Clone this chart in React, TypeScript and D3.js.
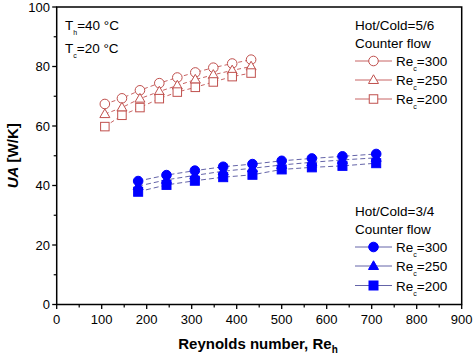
import React from "react";
import * as d3 from "d3";

// Hot/Cold = 5/6, counter flow (hollow markers)
const reRed = [107, 145, 185, 228, 268, 308, 348, 390, 432];
const red300 = [67.4, 69.3, 72.0, 74.4, 76.3, 78.0, 79.6, 81.0, 82.3];
const red250 = [64.0, 66.2, 69.2, 71.6, 73.6, 75.6, 77.2, 78.7, 80.0];
const red200 = [59.8, 63.6, 66.2, 69.2, 71.4, 73.0, 74.8, 76.6, 77.8];

// Hot/Cold = 3/4, counter flow (filled markers)
const reBlue = [181, 244, 307, 370, 435, 500, 567, 635, 710];
const blue300 = [41.5, 43.5, 45.0, 46.3, 47.2, 48.3, 49.1, 49.8, 50.6];
const blue250 = [39.8, 41.9, 43.4, 44.8, 45.8, 46.9, 47.8, 48.6, 49.3];
const blue200 = [37.9, 40.2, 41.6, 42.8, 43.6, 45.4, 46.1, 46.6, 47.5];

const xTicks = [0, 100, 200, 300, 400, 500, 600, 700, 800, 900];
const yTicks = [0, 20, 40, 60, 80, 100];
const legendLabels = ["300", "250", "200"];

const W = 474;
const H = 358;
const margin = { left: 56.7, right: 12.3, top: 7, bottom: 53.5 };
const font = "Arial, 'Liberation Sans', sans-serif";
const red = "#c0504d";
const redLine = "#c86464";
const blue = "#0000ff";
const blueLine = "#6464a8";

type Shape = "circle" | "triangle" | "square";

function Marker({ shape, x, y, filled }: { shape: Shape; x: number; y: number; filled: boolean }) {
  const stroke = filled ? blue : red;
  const fill = filled ? blue : "white";
  if (shape === "circle") {
    return <circle cx={x} cy={y} r={filled ? 4.8 : 4.8} fill={fill} stroke={stroke} strokeWidth={1} />;
  }
  if (shape === "triangle") {
    const s = 10;
    const h = s * 0.87;
    return (
      <path
        d={`M${x},${y - h * 0.6}L${x + s / 2},${y + h * 0.4}L${x - s / 2},${y + h * 0.4}Z`}
        fill={fill}
        stroke={stroke}
        strokeWidth={1}
      />
    );
  }
  const s = filled ? 9 : 8.5;
  return <rect x={x - s / 2} y={y - s / 2} width={s} height={s} fill={fill} stroke={stroke} strokeWidth={1} />;
}

export default function App() {
  const x = d3.scaleLinear().domain([0, 900]).range([margin.left, W - margin.right]);
  const y = d3.scaleLinear().domain([0, 100]).range([H - margin.bottom, margin.top]);

  const line = d3
    .line<[number, number]>()
    .x((d) => x(d[0]))
    .y((d) => y(d[1]));

  const redSeries: { vals: number[]; shape: Shape }[] = [
    { vals: red300, shape: "circle" },
    { vals: red250, shape: "triangle" },
    { vals: red200, shape: "square" },
  ];
  const blueSeries: { vals: number[]; shape: Shape }[] = [
    { vals: blue300, shape: "circle" },
    { vals: blue250, shape: "triangle" },
    { vals: blue200, shape: "square" },
  ];

  const x0 = x(0);
  const x1 = x(900);
  const y0 = y(0);
  const y1 = y(100);

  const xMinor = d3.range(50, 900, 100);
  const yMinor = d3.range(10, 100, 20);

  const legend = (top: number, rows: number[], filled: boolean, title: string, lineColor: string) => (
    <g>
      <text x={355} y={top} fontSize={13.5} fontFamily={font}>{title}</text>
      <text x={355} y={top + 18} fontSize={13.5} fontFamily={font}>Counter flow</text>
      {rows.map((ry, i) => (
        <g key={i}>
          <line x1={355} x2={392} y1={ry} y2={ry} stroke={lineColor} strokeWidth={1} />
          <Marker shape={(["circle", "triangle", "square"] as Shape[])[i]} x={373.5} y={ry} filled={filled} />
          <text x={396} y={ry + 5} fontSize={13.5} fontFamily={font}>
            Re<tspan fontSize={7} dy={5}>c</tspan>
            <tspan dy={-5}>={legendLabels[i]}</tspan>
          </text>
        </g>
      ))}
    </g>
  );

  return (
    <svg width={W} height={H} style={{ position: "absolute", left: 0, top: 0 }}>
      <rect width={W} height={H} fill="white" />

      {/* series lines */}
      {redSeries.map((s, i) => (
        <path
          key={"rl" + i}
          d={line(reRed.map((r, j) => [r, s.vals[j]]))!}
          fill="none"
          stroke={redLine}
          strokeWidth={1}
          strokeDasharray="4,3"
        />
      ))}
      {blueSeries.map((s, i) => (
        <path
          key={"bl" + i}
          d={line(reBlue.map((r, j) => [r, s.vals[j]]))!}
          fill="none"
          stroke={blueLine}
          strokeWidth={1}
          strokeDasharray="5,3"
        />
      ))}

      {/* markers */}
      {redSeries.map((s, i) =>
        reRed.map((r, j) => (
          <Marker key={`rm${i}-${j}`} shape={s.shape} x={x(r)} y={y(s.vals[j])} filled={false} />
        ))
      )}
      {blueSeries.map((s, i) =>
        reBlue.map((r, j) => (
          <Marker key={`bm${i}-${j}`} shape={s.shape} x={x(r)} y={y(s.vals[j])} filled={true} />
        ))
      )}

      {/* frame */}
      <rect x={x0} y={y1} width={x1 - x0} height={y0 - y1} fill="none" stroke="black" strokeWidth={1.5} />

      {/* x axis ticks */}
      {xTicks.map((t) => (
        <g key={"xt" + t}>
          <line x1={x(t)} x2={x(t)} y1={y0} y2={y0 + 4.5} stroke="black" strokeWidth={1.3} />
          <text x={x(t)} y={y0 + 19} textAnchor="middle" fontSize={13} fontFamily={font}>{t}</text>
        </g>
      ))}
      {xMinor.map((t) => (
        <line key={"xm" + t} x1={x(t)} x2={x(t)} y1={y0} y2={y0 + 3} stroke="black" strokeWidth={1.2} />
      ))}

      {/* y axis ticks */}
      {yTicks.map((t) => (
        <g key={"yt" + t}>
          <line x1={x0} x2={x0 - 4.5} y1={y(t)} y2={y(t)} stroke="black" strokeWidth={1.3} />
          <text x={50} y={y(t) + 4.5} textAnchor="end" fontSize={13} fontFamily={font}>{t}</text>
        </g>
      ))}
      {yMinor.map((t) => (
        <line key={"ym" + t} x1={x0} x2={x0 - 3} y1={y(t)} y2={y(t)} stroke="black" strokeWidth={1.2} />
      ))}

      {/* axis titles */}
      <text
        transform={`translate(18,${(y0 + y1) / 2}) rotate(-90)`}
        textAnchor="middle"
        fontSize={15}
        fontWeight="bold"
        fontFamily={font}
      >
        <tspan fontStyle="italic">UA</tspan> [W/K]
      </text>
      <text x={258} y={349} textAnchor="middle" fontSize={15} fontWeight="bold" fontFamily={font}>
        Reynolds number, Re<tspan fontSize={10} dy={4}>h</tspan>
      </text>

      {/* temperatures */}
      <text x={65} y={30} fontSize={13.5} fontFamily={font}>
        T<tspan fontSize={7} dy={5}>h</tspan>
        <tspan dy={-5}>=40 °C</tspan>
      </text>
      <text x={65} y={53} fontSize={13.5} fontFamily={font}>
        T<tspan fontSize={7} dy={5}>c</tspan>
        <tspan dy={-5}>=20 °C</tspan>
      </text>

      {legend(30, [61, 80, 99], false, "Hot/Cold=5/6", redLine)}
      {legend(216, [247, 266, 285.5], true, "Hot/Cold=3/4", blueLine)}
    </svg>
  );
}
